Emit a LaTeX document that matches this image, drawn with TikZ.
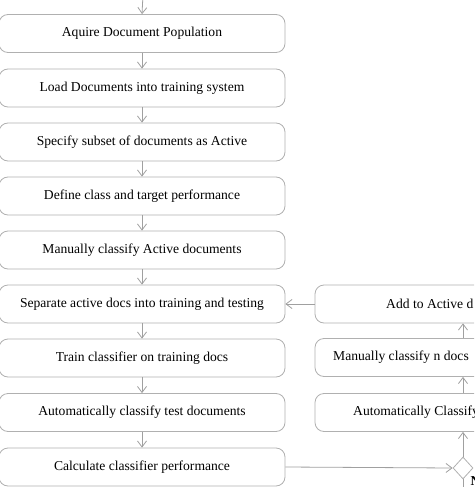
\documentclass[tikz,border=0pt]{standalone}
\usepackage{fontspec}
\setmainfont{Liberation Serif}
\usetikzlibrary{arrows.meta,shapes.geometric}
\definecolor{boxgray}{HTML}{B0B0B0}
\definecolor{linegray}{HTML}{A0A0A0}
\begin{document}
\begin{tikzpicture}[x=1pt,y=-1pt,
  box/.style={draw=boxgray, rounded corners=9pt, minimum width=286pt, minimum height=38pt, inner sep=0pt, line width=0.8pt, font=\fontsize{13.6}{16}\selectfont},
  rbox/.style={draw=boxgray, rounded corners=9pt, minimum width=296pt, minimum height=38pt, inner sep=0pt, line width=0.8pt},
  lbl/.style={anchor=west, inner sep=0pt, font=\fontsize{13.6}{16}\selectfont},
  arr/.style={draw=linegray, line width=0.8pt, -{Straight Barb[length=6pt,width=9pt]}},
  ln/.style={draw=linegray, line width=0.8pt},
  dec/.style={diamond, draw=boxgray, line width=0.8pt, minimum width=20pt, minimum height=22pt, inner sep=0pt}
]
\useasboundingbox (0,0) rectangle (474,487);
\clip (0,0) rectangle (474,487);

\node[box] (b1) at (142,33.5) {Aquire Document Population};
\node[box] (b2) at (142,88) {Load Documents into training system};
\node[box] (b3) at (142,142) {Specify subset of documents as Active};
\node[box] (b4) at (142,196) {Define class and target performance};
\node[box] (b5) at (142,250) {Manually classify Active documents};
\node[box] (b6) at (142,304) {Separate active docs into training and testing};
\node[box] (b7) at (142,358) {Train classifier on training docs};
\node[box] (b8) at (142,412.5) {Automatically classify test documents};
\node[box] (b9) at (142,467) {Calculate classifier performance};

\node[rbox] (r1) at (463,304) {};
\node[rbox] (r2) at (463,357.5) {};
\node[rbox] (r3) at (463,412.5) {};
\node[lbl] (t1) at (386,304) {Add to Active d};
\node[lbl] (t2) at (333,357.5) {Manually classify n docs};
\node[lbl] (t3) at (353,412.5) {Automatically Classify};

\node[dec] (d) at (463,468) {};
\node[anchor=north west, inner sep=0pt, font=\fontsize{13.6}{16}\selectfont\bfseries] (n) at (470.5,476) {N};

\coordinate (top) at (143,-5);
\coordinate (bot) at (463,495);

\draw[arr] (top) -- (b1.north);
\foreach \a/\b in {b1/b2,b2/b3,b3/b4,b4/b5,b5/b6,b6/b7,b7/b8,b8/b9}
  \draw[arr] (\a.south) -- (\b.north);
\draw[arr] (r1.west) -- (b6.east);
\draw[arr] (b9.east) -- (d.west);
\draw[arr] (d.north) -- (r3.south);
\draw[arr] (r3.north) -- (r2.south);
\draw[arr] (r2.north) -- (r1.south);
\draw[ln] (d.south) -- (bot);
\end{tikzpicture}
\end{document}
